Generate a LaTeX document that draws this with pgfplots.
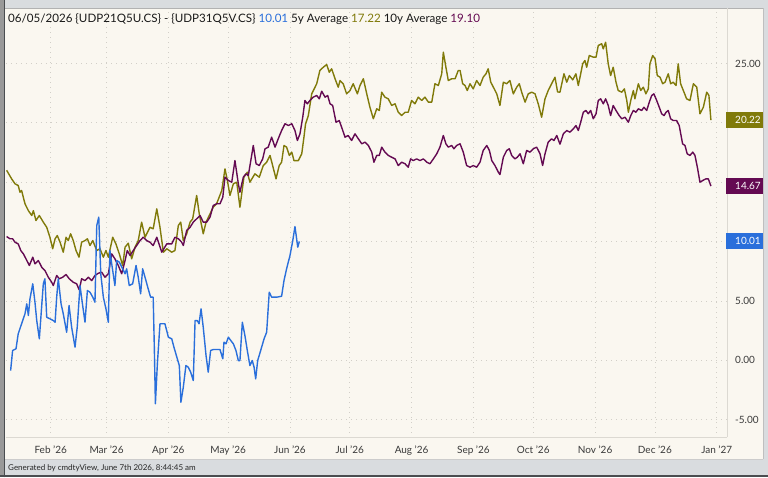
\documentclass[border=0pt]{standalone}
\usepackage{fontspec}
\setmainfont{Lato}
\usepackage{pgfplots}
\usepackage{pgfplotstable}
\pgfplotsset{compat=1.18}

\definecolor{cream}{HTML}{FAF7F0}
\definecolor{chrome}{HTML}{D9DCDF}
\definecolor{chromedark}{HTML}{4A4D50}
\definecolor{olive5}{HTML}{807A0A}
\definecolor{plum10}{HTML}{640A52}
\definecolor{spread}{HTML}{2A6FDB}
\definecolor{gridc}{HTML}{D2CFC8}
\definecolor{axisc}{HTML}{DCD9D2}
\definecolor{labc}{HTML}{3A3A3A}

% spread {UDP21Q5U.CS} - {UDP31Q5V.CS}; x = day of 2026 (1 Jan = 0)
\pgfplotstableread{
d v
10.9 -0.87
11.9 0.82
13.6 0.96
14.7 2.22
16.4 3.07
18.1 3.91
19.0 4.75
19.8 3.77
20.6 5.17
22.0 6.44
23.1 4.89
24.0 3.34
25.3 1.80
26.5 4.61
27.3 6.44
28.1 6.86
29.0 3.62
30.6 3.49
32.3 3.34
33.2 3.20
34.0 5.31
34.8 6.86
36.2 4.75
37.3 3.91
39.0 2.36
40.2 4.61
41.5 2.78
43.2 1.10
44.3 2.78
45.7 6.29
46.8 4.89
48.2 3.20
49.4 5.87
50.7 5.73
52.1 5.31
53.2 4.89
54.1 11.35
55.1 12.05
56.1 7.28
57.4 5.31
58.7 4.33
59.9 3.20
60.7 9.24
61.6 8.12
63.2 6.29
64.1 8.40
65.4 8.26
67.1 7.70
68.3 7.28
69.1 7.70
70.4 6.29
72.1 6.44
73.8 7.98
74.9 6.99
76.1 5.59
77.1 7.70
78.3 6.99
79.9 6.01
81.1 5.31
82.4 5.31
83.0 0.82
83.5 -3.67
84.5 -0.30
85.8 3.07
88.3 3.07
90.0 1.94
91.7 1.80
92.8 1.10
94.5 0.12
95.5 -0.45
96.3 -3.54
97.5 -2.27
98.8 -0.45
100.0 -0.59
101.2 -1.01
102.5 -1.71
103.4 3.34
104.5 3.34
105.4 3.07
106.4 4.33
107.5 2.78
108.9 0.40
110.0 -1.01
111.2 0.82
112.5 0.90
114.2 0.90
115.9 0.90
117.3 0.12
117.9 1.52
118.9 1.38
120.1 1.94
121.3 1.66
122.6 1.38
123.9 0.82
125.1 -0.03
125.9 -0.03
127.1 3.20
128.4 2.08
129.6 0.82
130.9 -0.45
132.1 -0.03
133.0 -0.59
133.8 -1.57
134.8 -0.03
136.3 0.82
138.0 1.80
139.3 2.36
140.6 5.73
141.8 5.31
144.3 5.31
146.8 5.39
148.0 6.71
149.3 7.70
151.0 8.82
152.4 10.08
153.5 11.26
154.9 9.52
155.7 10.01
}\spreadtab

% 5y average
\pgfplotstableread{
d v
8.9 16.00
11.4 15.28
13.1 14.86
14.7 14.72
15.6 14.15
16.4 14.30
18.1 13.18
19.8 12.60
21.5 12.19
22.3 12.60
23.6 11.77
25.3 12.19
27.3 11.63
29.0 11.20
30.6 10.36
32.0 9.39
33.2 10.23
34.3 10.50
35.7 9.94
37.3 9.10
38.7 10.36
39.8 10.08
41.0 10.65
42.3 10.08
43.7 9.24
45.2 8.68
46.5 9.94
48.2 10.08
49.4 10.23
50.7 9.66
52.1 10.08
54.1 9.24
55.7 9.39
57.4 8.68
58.7 9.24
59.9 8.68
62.1 10.36
63.7 9.80
65.4 8.96
67.1 7.98
68.3 9.52
69.9 9.86
71.6 8.54
73.3 9.52
74.9 10.08
76.6 11.63
78.3 10.36
80.8 11.20
82.4 11.07
84.2 12.75
85.8 11.20
87.5 9.10
89.2 9.39
91.7 9.10
93.3 9.24
95.0 11.35
96.2 11.63
97.5 10.08
99.2 10.65
100.9 11.63
102.2 11.91
104.2 13.88
105.5 12.33
107.5 10.65
108.9 11.63
110.5 12.19
112.5 12.89
114.2 13.18
116.8 14.30
118.4 16.12
119.6 15.14
120.9 13.88
122.6 14.86
124.3 15.00
125.9 12.89
127.9 15.42
129.6 15.84
130.9 15.00
133.4 15.70
135.6 15.42
137.6 16.40
139.3 16.68
141.0 17.25
142.3 16.40
144.0 15.28
145.6 16.40
146.8 16.68
148.0 18.09
149.3 17.95
150.7 17.25
151.9 17.53
153.0 16.82
155.2 16.82
156.9 17.39
158.0 18.79
158.8 19.90
160.2 20.61
161.9 22.44
164.4 23.29
166.0 24.41
167.7 24.68
169.4 24.91
170.7 24.26
171.9 24.55
173.6 23.71
175.2 23.00
176.1 23.56
177.7 23.29
179.4 22.44
181.1 22.72
182.7 23.29
184.8 22.44
186.1 23.14
187.8 23.71
189.5 22.44
191.1 21.31
192.8 20.34
194.5 21.18
195.8 21.04
197.0 22.58
198.6 22.16
200.3 22.02
202.0 21.46
203.7 21.60
205.3 20.89
207.0 20.61
208.7 20.89
210.3 20.89
212.0 21.88
213.7 21.60
215.3 22.16
217.1 21.88
218.7 22.16
220.4 21.74
222.1 21.74
223.7 23.29
225.4 23.14
227.1 24.13
227.9 25.95
229.2 24.68
230.4 23.56
232.1 23.71
233.8 23.71
235.4 24.41
236.3 24.41
237.6 23.29
238.8 23.14
239.9 22.72
241.3 23.29
242.9 22.86
244.6 23.56
246.3 23.14
247.9 23.84
249.3 24.13
250.4 24.55
251.7 23.42
253.0 23.00
254.7 22.44
256.3 21.46
258.0 23.42
259.7 23.29
261.3 23.56
263.0 22.44
264.7 23.00
266.0 23.29
267.2 22.58
268.9 21.74
270.5 22.44
272.2 22.58
273.9 22.44
275.5 21.60
277.2 20.47
278.9 22.02
280.5 22.72
282.2 23.29
283.9 23.84
285.2 22.60
286.4 22.58
288.4 24.13
289.8 23.42
291.1 23.98
292.8 23.62
294.4 24.13
295.6 23.14
297.8 24.97
298.9 25.25
299.8 24.68
301.1 25.67
303.1 25.53
304.5 25.53
305.6 26.51
307.3 26.66
308.1 26.23
309.3 26.79
310.6 24.97
311.8 23.98
313.1 24.68
314.5 23.42
315.6 22.72
317.4 22.58
318.7 22.86
319.9 21.88
320.7 20.89
321.9 21.88
323.2 22.72
324.0 22.02
325.7 23.29
326.9 22.72
328.2 23.00
329.5 22.44
330.7 22.86
331.5 24.97
332.9 25.67
334.1 25.39
335.2 23.98
336.6 23.84
337.9 23.29
339.1 23.42
340.7 24.13
341.9 23.29
343.2 23.42
344.6 23.14
345.7 24.97
346.9 23.29
348.6 22.58
349.9 22.02
351.6 21.88
353.3 23.29
355.0 23.00
356.6 20.76
358.3 21.31
360.0 22.58
361.1 22.30
362.1 20.22
}\fivetab

% 10y average
\pgfplotstableread{
d v
8.9 10.42
10.6 10.23
11.9 10.23
13.1 9.94
14.7 9.80
16.0 9.24
17.3 8.96
18.6 8.54
20.3 7.98
22.0 8.68
23.1 8.12
24.8 8.40
26.5 7.83
28.1 7.56
29.8 6.99
31.5 6.57
32.3 6.29
34.0 7.14
35.3 6.86
37.0 6.99
38.7 7.22
40.3 6.86
42.3 6.57
44.0 6.44
45.3 5.93
46.5 6.86
48.2 6.71
49.9 6.99
51.6 6.71
53.2 7.14
54.9 7.33
56.6 7.41
58.2 6.99
59.9 7.28
61.6 8.96
63.2 8.54
64.9 7.98
66.6 7.28
68.3 8.40
69.4 9.24
70.8 8.82
72.4 9.24
74.1 9.66
75.8 10.08
77.4 10.36
79.1 10.08
80.8 9.94
82.4 9.66
84.2 10.36
86.7 9.10
89.2 9.80
91.7 9.80
93.3 10.36
95.0 10.23
96.7 9.94
97.5 9.66
99.2 10.93
100.9 11.20
102.5 11.63
104.2 11.91
105.9 12.19
107.5 11.63
109.2 11.63
110.9 12.05
112.5 13.03
114.2 13.18
115.9 13.18
117.3 13.73
118.4 15.42
120.1 15.14
121.8 15.00
123.4 16.82
125.1 14.86
125.9 14.15
127.6 15.42
128.9 15.70
130.1 15.56
132.6 18.09
134.0 16.55
135.6 16.40
137.3 16.96
138.5 17.81
140.1 17.95
141.8 18.79
143.5 17.95
145.1 18.65
146.8 19.35
148.5 19.92
150.2 19.77
151.9 19.92
153.5 19.35
154.7 18.51
156.0 19.07
157.4 20.47
158.5 21.88
159.7 21.60
161.0 21.88
162.7 22.16
164.4 22.30
165.7 22.02
166.9 22.66
168.6 22.16
169.9 22.30
171.1 21.60
172.4 21.46
174.1 20.05
175.7 20.19
176.9 19.63
178.6 18.79
180.2 18.93
181.9 18.51
183.6 19.07
185.3 18.65
187.0 18.23
188.6 18.37
190.3 18.09
192.0 17.53
193.1 16.68
194.5 17.25
195.8 17.25
197.0 17.95
198.6 17.53
200.3 17.25
202.0 17.10
203.7 16.96
205.3 16.40
207.0 16.68
208.7 16.55
210.3 16.26
211.5 16.96
212.8 16.82
214.5 16.96
216.2 16.82
217.9 16.96
219.6 16.68
221.2 16.55
222.9 16.96
224.6 17.39
226.2 17.95
227.9 18.93
229.2 18.23
230.4 17.95
232.1 18.09
233.2 17.81
234.6 18.09
236.3 18.23
237.9 17.53
239.6 16.40
241.3 16.26
242.9 16.40
244.6 16.26
246.3 16.68
247.9 17.67
249.7 18.09
251.0 17.67
252.2 16.82
253.8 16.40
255.5 15.84
256.3 15.64
258.0 17.10
259.7 17.67
261.0 17.81
262.2 17.25
263.8 16.96
265.0 17.10
266.4 17.39
268.0 16.55
269.7 17.67
271.4 17.53
273.0 17.81
274.7 17.95
276.4 17.39
277.7 16.40
278.9 17.39
280.5 18.37
282.2 18.65
283.4 18.51
284.8 18.93
286.4 18.20
288.1 19.07
289.8 19.35
291.4 19.21
293.1 19.49
294.4 19.77
295.6 19.35
296.8 20.05
298.1 20.89
299.4 21.04
300.6 20.76
301.8 21.04
303.1 20.34
304.5 20.76
305.6 21.88
306.8 22.02
308.1 21.60
309.3 22.02
310.6 21.46
311.8 20.61
313.1 21.46
314.5 21.04
316.1 20.61
317.4 20.34
319.0 20.47
320.7 20.05
321.9 20.61
323.2 21.04
324.5 20.89
325.7 21.18
327.4 21.04
328.5 21.31
329.9 21.04
331.2 21.74
332.4 22.30
333.5 22.44
334.9 21.88
336.2 21.31
337.4 20.76
338.6 20.61
339.6 20.89
340.7 21.04
341.9 20.34
343.2 20.19
344.9 20.19
346.2 19.77
347.9 18.23
349.1 18.09
350.2 17.39
351.6 17.25
353.0 17.53
354.1 17.25
355.3 16.26
356.6 15.00
358.0 15.14
359.6 15.28
360.8 15.28
362.1 14.67
}\tentab

\begin{document}
\begin{tikzpicture}[x=1pt,y=1pt]
% window chrome
\fill[chrome] (0,0) rectangle (768,477);
\fill[cream] (5,18) rectangle (763,469);
\fill[black!40] (0,0) rectangle (4,477);
\draw[chromedark, line width=1pt] (4.5,0) -- (4.5,477);
\fill[chromedark] (0,0) rectangle (768,2.5);
\draw[black!30, line width=0.6pt] (5,469) -- (763,469);
\draw[black!25, line width=0.6pt] (763,18) -- (763,469);
\draw[black!20, line width=0.6pt] (5,18) -- (763,18);

\begin{axis}[
  at={(6pt,40pt)}, anchor=south west,
  scale only axis, width=721pt, height=429pt,
  xmin=8.58, xmax=370.17, ymin=-6.51, ymax=29.63,
  axis x line*=bottom, axis y line*=right,
  axis line style={draw=axisc, line width=0.8pt},
  xtick={31,59,90,120,151,181,212,243,273,304,334,365},
  xticklabels={Feb '26,Mar '26,Apr '26,May '26,Jun '26,Jul '26,Aug '26,Sep '26,Oct '26,Nov '26,Dec '26,Jan '27},
  % 10, 15 and 20 sit under the last-value tags: grid lines only
  ytick={-5,0,5,25},
  extra y ticks={10,15,20},
  extra y tick labels={},
  extra y tick style={grid=major},
  major tick length=0pt,
  grid=major,
  major grid style={draw=gridc, line width=0.7pt, dash pattern=on 0.8pt off 4.2pt},
  tick label style={font=\fontsize{10}{12}\selectfont, text=labc},
  xticklabel style={anchor=base, inner sep=0pt, yshift=-16.5pt},
  yticklabel style={anchor=west, inner sep=0pt, xshift=8pt},
  /pgf/number format/fixed,
  /pgf/number format/fixed zerofill,
  /pgf/number format/precision=2,
  /pgf/number format/assume math mode=true,
  every axis plot/.append style={line width=1.4pt, line join=round, no markers},
]
\addplot[olive5] table[x=d,y=v] {\fivetab};
\addplot[plum10] table[x=d,y=v] {\tentab};
\addplot[spread] table[x=d,y=v] {\spreadtab};
\coordinate (tagA) at (axis cs:370.17,20.22);
\coordinate (tagB) at (axis cs:370.17,14.67);
\coordinate (tagC) at (axis cs:370.17,10.01);
\end{axis}

% last-value tags on the right scale
\foreach \c/\col/\val in {tagA/olive5/20.22, tagB/plum10/14.67, tagC/spread/10.01}{
  \fill[\col] (\c) ++(-1pt,-8pt) rectangle ++(37pt,16pt);
  \node[anchor=west, inner sep=0pt, xshift=8pt, text=white,
        font=\fontsize{10}{12}\selectfont] at (\c) {\val};
}

% header line
\node[anchor=base west, inner sep=0pt, font=\fontsize{11.6}{14}\selectfont, text=black!90]
  at (8,455) {06/05/2026 \{UDP21Q5U.CS\} - \{UDP31Q5V.CS\} \textcolor{spread}{10.01} 5y Average \textcolor{olive5}{17.22} 10y Average \textcolor{plum10}{19.10}};

% footer
\node[anchor=base west, inner sep=0pt, font=\fontsize{8}{9}\selectfont, text=black!85]
  at (8,7) {Generated by cmdtyView, June 7th 2026, 8:44:45 am};
\end{tikzpicture}
\end{document}
